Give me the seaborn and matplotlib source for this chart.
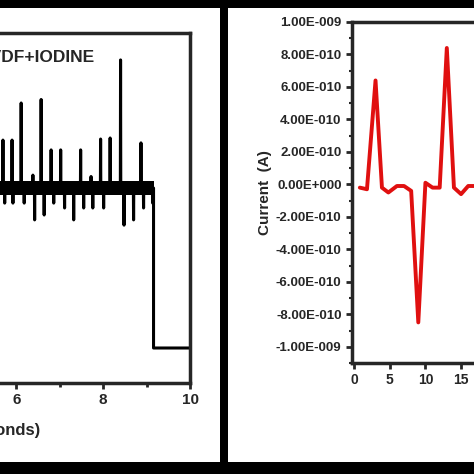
import numpy as np
import pandas as pd
import seaborn as sns
import matplotlib.pyplot as plt
from matplotlib.patches import Rectangle
from matplotlib.ticker import MultipleLocator, FuncFormatter

# left panel (cropped): baseline, spikes and the final drop
base_level = 0.557
drop_level = 0.10
drop_x = 9.16
up_x = [5.69, 5.90, 6.11, 6.38, 6.57, 6.80, 7.02, 7.48, 7.72, 7.94, 8.16, 8.40, 8.87]
up_y = [0.694, 0.694, 0.80, 0.594, 0.81, 0.666, 0.666, 0.666, 0.59, 0.697, 0.70, 0.923, 0.686]
down_x = [5.73, 5.92, 6.18, 6.42, 6.64, 6.86, 7.11, 7.32, 7.55, 7.76, 8.01, 8.48, 8.70, 8.93, 9.14]
down_y = [0.514, 0.514, 0.514, 0.466, 0.48, 0.514, 0.50, 0.466, 0.50, 0.50, 0.50, 0.451, 0.466, 0.50, 0.514]

# right panel: current vs time
t_right = [0.8, 1.8, 3.0, 3.9, 4.8, 6, 7, 8, 9, 10, 11, 12, 13, 14, 15, 16, 17, 18]
i_right = [-0.2e-10, -0.3e-10, 6.4e-10, -0.2e-10, -0.5e-10, -0.1e-10, -0.1e-10, -0.4e-10,
           -8.5e-10, 0.1e-10, -0.2e-10, -0.2e-10, 8.4e-10, -0.2e-10, -0.6e-10, -0.1e-10,
           -0.1e-10, -0.1e-10]

sns.set_style('ticks')
plt.rcParams['font.family'] = ['Liberation Sans', 'DejaVu Sans']
plt.rcParams['font.weight'] = 'bold'

W = 474
fig = plt.figure(figsize=(4.74, 4.74), dpi=100, facecolor='black')
fig.add_artist(Rectangle((0, 12 / W), 220 / W, (462 - 8) / W, transform=fig.transFigure,
                         facecolor='white', edgecolor='none', zorder=0))
fig.add_artist(Rectangle((228 / W, 12 / W), (474 - 228) / W, (462 - 8) / W,
                         transform=fig.transFigure, facecolor='white', edgecolor='none', zorder=0))

# build left trace: baseline with spikes
xs, ys = [5.0], [base_level]
events = sorted(list(zip(up_x, up_y)) + list(zip(down_x, down_y)))
for x, y in events:
    xs += [x - 0.005, x, x + 0.005]
    ys += [base_level, y, base_level]
xs += [drop_x, drop_x, 10.0]
ys += [base_level, drop_level, drop_level]
left_df = pd.DataFrame({'t': xs, 'v': ys})

axL = fig.add_axes([-244 / W, (W - 383) / W, 434 / W, 350 / W])
axL.set_facecolor('none')
sns.lineplot(data=left_df, x='t', y='v', ax=axL, color='black', lw=2.2, estimator=None, sort=False)
axL.fill_between([5.0, drop_x], base_level - 0.02, base_level + 0.02, color='black', lw=0)
axL.set_xlim(0, 10)
axL.set_ylim(0, 1)
axL.xaxis.set_major_locator(MultipleLocator(2))
axL.xaxis.set_minor_locator(MultipleLocator(1))
axL.tick_params(axis='x', which='major', direction='out', length=4, width=2, labelsize=11)
axL.tick_params(axis='x', which='minor', direction='out', length=3, width=2)
axL.set_yticks([])
axL.set_xlabel('')
axL.set_ylabel('')
for s in axL.spines.values():
    s.set_linewidth(2.5)
    s.set_visible(True)
axL.text(7.81, 0.93, 'PVDF+IODINE', ha='right', va='center', fontsize=12.5, fontweight='bold')
fig.text(40 / W, (W - 430) / W, 'Time (seconds)', ha='right', va='center',
         fontsize=12, fontweight='bold')


def sci_fmt(v, pos):
    if abs(v) < 1e-15:
        return '0.00E+000'
    e = int(np.floor(np.log10(abs(v)) + 1e-9))
    return '%.2fE-%03d' % (v / 10 ** e, -e)


# right panel
right_df = pd.DataFrame({'t': t_right, 'i': i_right})
axR = fig.add_axes([352 / W, (W - 363) / W, 216 / W, 341 / W])
axR.set_facecolor('none')
sns.lineplot(data=right_df, x='t', y='i', ax=axR, color='#e01010', lw=2.8, estimator=None)
axR.set_xlim(-0.3, 30)
axR.set_ylim(-1.1e-9, 1.0e-9)
axR.xaxis.set_major_locator(MultipleLocator(5))
axR.yaxis.set_major_locator(MultipleLocator(2e-10))
axR.yaxis.set_minor_locator(MultipleLocator(1e-10))
axR.yaxis.set_major_formatter(FuncFormatter(sci_fmt))
axR.tick_params(axis='both', which='major', direction='out', length=4, width=2, labelsize=9.5)
axR.tick_params(axis='y', which='minor', direction='out', length=2.5, width=1.5)
axR.tick_params(axis='x', labelsize=10)
axR.set_xlabel('')
axR.set_ylabel('Current  (A)', fontsize=11, fontweight='bold', labelpad=3)
for s in axR.spines.values():
    s.set_linewidth(2.5)
    s.set_visible(True)

fig.savefig('out.png', dpi=100, facecolor='black')
